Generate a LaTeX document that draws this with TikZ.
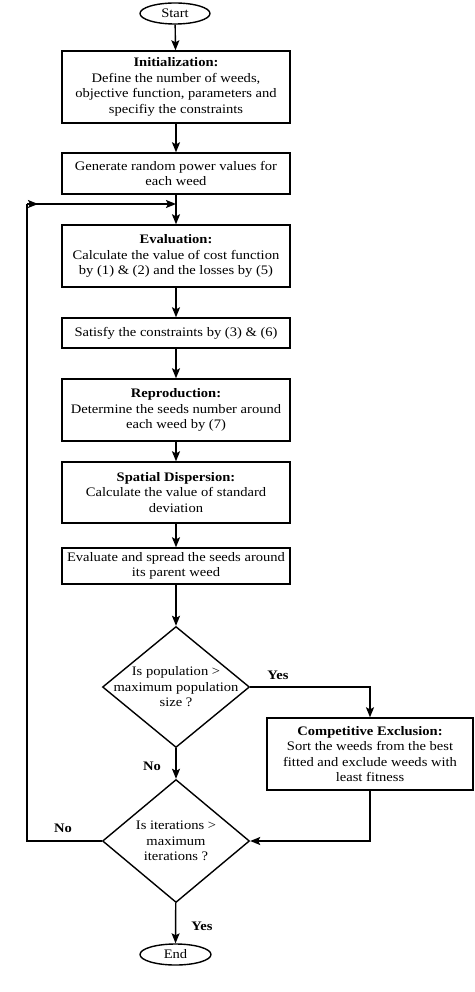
\documentclass[tikz,border=0pt]{standalone}
\usepackage{fontspec}
\setmainfont[FakeStretch=1.12]{Liberation Serif}
\usetikzlibrary{arrows.meta,shapes.geometric}
\begin{document}
\begin{tikzpicture}[x=1pt,y=-1pt,
  font=\fontsize{13}{15.5}\selectfont,
  every path/.style={line width=1.4pt},
  arr/.style={-{Stealth[length=10pt,width=8pt,inset=2pt]}},
  box/.style={draw,line width=1.4pt,minimum width=228pt,align=center,inner sep=0pt},
  term/.style={draw,ellipse,line width=1.4pt,minimum width=70pt,minimum height=21pt,inner sep=0pt},
  dec/.style={draw,diamond,line width=1.4pt,inner sep=0pt},
  lab/.style={font=\fontsize{13}{15.5}\selectfont\bfseries}]
\useasboundingbox (0,0) rectangle (474,992);
\node[term] (start) at (175,13.5) {Start};
\node[box,minimum height=72pt] (init) at (176,87) {\textbf{Initialization:}\\Define the number of weeds,\\objective function, parameters and\\specifiy the constraints};
\node[box,minimum height=41pt] (gen) at (176,173.5) {Generate random power values for\\each weed};
\node[box,minimum height=62pt] (eval) at (176,256) {\textbf{Evaluation:}\\Calculate the value of cost function\\by (1) \& (2) and the losses by (5)};
\node[box,minimum height=30pt] (sat) at (176,333) {Satisfy the constraints by (3) \& (6)};
\node[box,minimum height=62pt] (rep) at (176,410) {\textbf{Reproduction:}\\Determine the seeds number around\\each weed by (7)};
\node[box,minimum height=61pt] (spa) at (176,492.5) {\textbf{Spatial Dispersion:}\\Calculate the value of standard\\deviation};
\node[box,minimum height=36pt] (spr) at (176,566) {Evaluate and spread the seeds around\\its parent weed};
\node[dec,minimum width=147pt,minimum height=121pt] (d1) at (176,687) {};
\node[align=center] (d1t) at (d1) {Is population >\\maximum population\\size ?};
\node[dec,minimum width=147pt,minimum height=123pt] (d2) at (176,841) {};
\node[align=center] (d2t) at (d2) {Is iterations >\\maximum\\iterations ?};
\node[box,minimum width=206pt,minimum height=72pt] (comp) at (370,754) {\textbf{Competitive Exclusion:}\\Sort the weeds from the best\\fitted and exclude weeds with\\least fitness};
\node[term,minimum width=71pt] (end) at (175.5,954.5) {End};
\node[lab] (yes1) at (278,675) {Yes};
\node[lab] (no1) at (152,766) {No};
\node[lab] (no2) at (63,828) {No};
\node[lab] (yes2) at (202,926) {Yes};
\coordinate (c1) at (27,841);
\coordinate (c2) at (27,204);
\coordinate (c2a) at (38,204);
\coordinate (c3) at (176,204);
\coordinate (c4) at (370,687);
\coordinate (c5) at (370,841);
\draw[arr] (start) -- (init);
\draw[arr] (init) -- (gen);
\draw[arr] (gen) -- (eval);
\draw[arr] (eval) -- (sat);
\draw[arr] (sat) -- (rep);
\draw[arr] (rep) -- (spa);
\draw[arr] (spa) -- (spr);
\draw[arr] (spr) -- (d1);
\draw[arr] (d1) -- (d2);
\draw[arr] (d1.east) -- (c4) -- (comp.north);
\draw[arr] (comp.south) -- (c5) -- (d2.east);
\draw[arr] (d2) -- (end);
\draw (d2.west) -- (c1) -- (c2);
\draw[arr] (c2) -- (c2a);
\draw[arr] (c2) -- (c3);
\end{tikzpicture}
\end{document}
